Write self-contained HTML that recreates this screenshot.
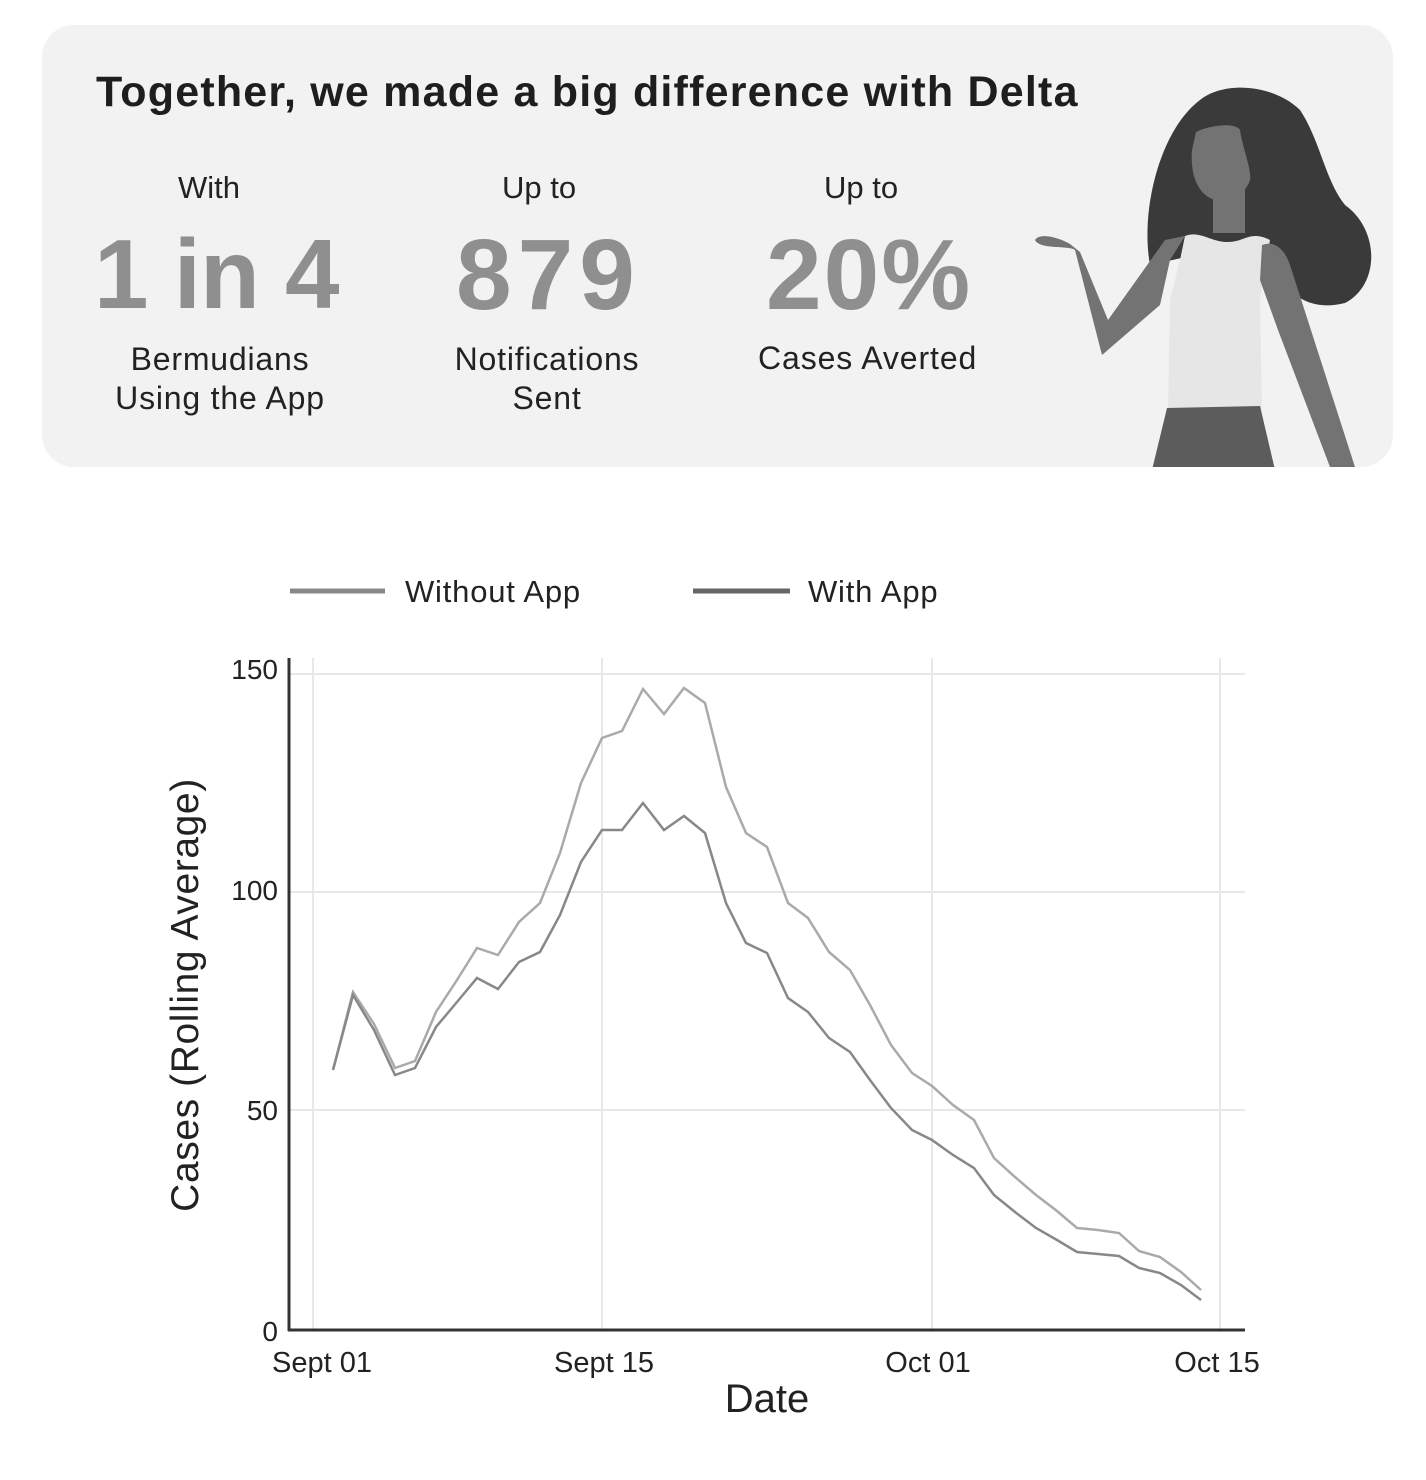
<!DOCTYPE html>
<html><head><style>
body{margin:0;background:#fff;width:1426px;height:1480px;overflow:hidden;font-family:"Liberation Sans",sans-serif;}
.card{position:absolute;left:42px;top:25px;width:1351px;height:442px;background:#f2f2f2;border-radius:32px;overflow:hidden;}
.t{position:absolute;white-space:nowrap;color:#222;}
</style></head><body>
<div class="card">
<svg width="1351" height="442" style="position:absolute;left:0;top:0">
<g transform="translate(-42,-25)">
<path d="M1200 100 C1225 80 1275 85 1300 110 C1320 140 1325 180 1345 205 C1380 230 1380 285 1345 303 C1310 312 1285 295 1270 260 L1240 245 L1150 265 C1140 210 1160 130 1200 100Z" fill="#3a3a3a"/>
<path d="M1196 132 C1210 125 1235 122 1240 130 C1243 150 1252 170 1250 180 C1245 195 1230 203 1215 200 C1198 195 1190 175 1192 150Z" fill="#737373"/>
<rect x="1213" y="188" width="32" height="45" fill="#737373"/>
<path d="M1185 236 C1200 230 1210 242 1228 242 C1245 242 1250 230 1270 240 L1260 300 L1262 410 L1168 410 L1170 300 L1180 260Z" fill="#e6e6e6"/>
<path d="M1185 236 L1170 260 L1160 305 L1102 355 L1075 250 C1068 245 1040 250 1035 240 C1040 232 1060 238 1070 244 L1080 252 L1108 320 L1165 240Z" fill="#737373"/>
<path d="M1262 245 C1275 240 1285 250 1290 265 L1355 467 L1330 467 L1278 330 L1260 280Z" fill="#737373"/>
<path d="M1167 408 L1260 406 L1275 470 L1152 470Z" fill="#5c5c5c"/>
</g></svg>
</div>
<div class="t" style="left:96px;top:68px;font-size:43px;font-weight:bold;color:#1e1e1e;letter-spacing:1.2px">Together, we made a big difference with Delta</div>
<div class="t" style="left:178px;top:170px;font-size:31px">With</div>
<div class="t" style="left:502px;top:170px;font-size:31px">Up to</div>
<div class="t" style="left:824px;top:170px;font-size:31px">Up to</div>
<div class="t" style="left:94px;top:218px;font-size:98px;font-weight:bold;color:#8f8f8f;letter-spacing:-1px">1 in 4</div>
<div class="t" style="left:456px;top:218px;font-size:100px;font-weight:bold;color:#8f8f8f;letter-spacing:6px">879</div>
<div class="t" style="left:766px;top:218px;font-size:100px;font-weight:bold;color:#8f8f8f;letter-spacing:2px">20%</div>
<div class="t" style="left:100px;top:340px;font-size:32px;text-align:center;width:240px;white-space:normal;line-height:39px;letter-spacing:0.8px">Bermudians Using the App</div>
<div class="t" style="left:436px;top:340px;font-size:32px;text-align:center;width:222px;white-space:normal;line-height:39px;letter-spacing:0.8px">Notifications Sent</div>
<div class="t" style="left:758px;top:340px;font-size:32px;letter-spacing:0.9px">Cases Averted</div>

<svg width="1426" height="1480" style="position:absolute;left:0;top:0" font-family="Liberation Sans, sans-serif">
<line x1="290" y1="591" x2="385" y2="591" stroke="#888" stroke-width="5"/>
<text x="405" y="602" font-size="31" fill="#222" letter-spacing="0.8">Without App</text>
<line x1="693" y1="591" x2="790" y2="591" stroke="#666" stroke-width="5"/>
<text x="808" y="602" font-size="31" fill="#222" letter-spacing="0.8">With App</text>
<g stroke="#e8e8e8" stroke-width="2">
<line x1="290" y1="674" x2="1245" y2="674"/><line x1="290" y1="892" x2="1245" y2="892"/><line x1="290" y1="1110" x2="1245" y2="1110"/>
<line x1="313" y1="658" x2="313" y2="1329"/><line x1="602" y1="658" x2="602" y2="1329"/><line x1="932" y1="658" x2="932" y2="1329"/><line x1="1220" y1="658" x2="1220" y2="1329"/>
</g>
<line x1="289" y1="658" x2="289" y2="1331" stroke="#333" stroke-width="3"/>
<line x1="288" y1="1330" x2="1245" y2="1330" stroke="#333" stroke-width="3"/>
<g font-size="28" fill="#222" text-anchor="end">
<text x="278" y="679">150</text><text x="278" y="900">100</text><text x="278" y="1120">50</text><text x="278" y="1341">0</text>
</g>
<g font-size="29" fill="#222" text-anchor="middle">
<text x="322" y="1372">Sept 01</text><text x="604" y="1372">Sept 15</text><text x="928" y="1372">Oct 01</text><text x="1217" y="1372">Oct 15</text>
</g>
<text x="767" y="1412" font-size="40" fill="#222" text-anchor="middle">Date</text>
<text transform="translate(198,995) rotate(-90)" font-size="39" fill="#222" text-anchor="middle" letter-spacing="0.6">Cases (Rolling Average)</text>
<polyline fill="none" stroke="#aaa" stroke-width="2.5" points="333,1070 353,992 374,1024 395,1068 415,1061 436,1012 457,980 477,948 498,955 519,922 540,903 560,853 581,783 602,738 622,731 643,689 664,714 684,688 705,703 726,787 746,833 767,847 788,903 808,918 829,952 850,970 870,1005 891,1045 912,1073 932,1086 953,1105 974,1120 994,1158 1015,1177 1036,1195 1057,1211 1077,1228 1098,1230 1119,1233 1139,1251 1160,1257 1181,1272 1201,1290"/>
<polyline fill="none" stroke="#888" stroke-width="2.5" points="333,1070 353,995 374,1030 395,1075 415,1068 436,1027 457,1002 477,978 498,989 519,962 540,952 560,915 581,862 602,830 622,830 643,803 664,830 684,816 705,833 726,903 746,943 767,953 788,998 808,1012 829,1038 850,1052 870,1080 891,1108 912,1130 932,1140 953,1155 974,1168 994,1195 1015,1212 1036,1228 1057,1240 1077,1252 1098,1254 1119,1256 1139,1268 1160,1273 1181,1285 1201,1300"/>
</svg>
</body></html>
